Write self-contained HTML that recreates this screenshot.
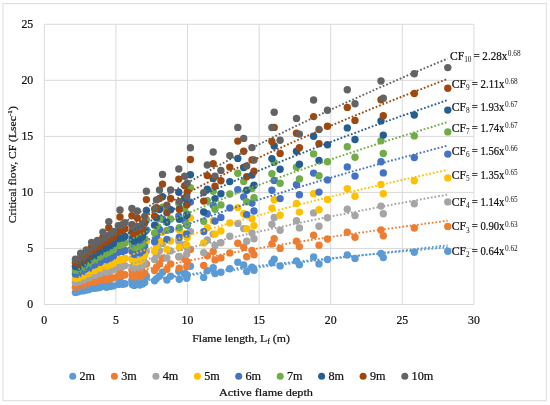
<!DOCTYPE html>
<html><head><meta charset="utf-8"><title>Critical flow chart</title>
<style>html,body{margin:0;padding:0;background:#fff;}svg{display:block;}text{font-family:'Liberation Serif', serif;fill:#111;stroke:#111;stroke-width:0.22px;}.sm{stroke-width:0;}</style></head><body>
<svg width="550" height="405" viewBox="0 0 550 405">
<rect x="0" y="0" width="550" height="405" fill="#fff"/>
<rect x="3.0" y="3.6" width="543.3" height="397.1" fill="none" stroke="#dedede" stroke-width="1.1"/>
<g stroke="#d9d9d9" stroke-width="1" fill="none"><line x1="44.30" y1="24.30" x2="44.30" y2="304.50"/><line x1="115.90" y1="24.30" x2="115.90" y2="304.50"/><line x1="187.50" y1="24.30" x2="187.50" y2="304.50"/><line x1="259.10" y1="24.30" x2="259.10" y2="304.50"/><line x1="330.70" y1="24.30" x2="330.70" y2="304.50"/><line x1="402.30" y1="24.30" x2="402.30" y2="304.50"/><line x1="473.90" y1="24.30" x2="473.90" y2="304.50"/><line x1="44.30" y1="304.50" x2="473.90" y2="304.50"/><line x1="44.30" y1="248.46" x2="473.90" y2="248.46"/><line x1="44.30" y1="192.42" x2="473.90" y2="192.42"/><line x1="44.30" y1="136.38" x2="473.90" y2="136.38"/><line x1="44.30" y1="80.34" x2="473.90" y2="80.34"/><line x1="44.30" y1="24.30" x2="473.90" y2="24.30"/></g>
<g fill="#5B9BD5"><circle cx="447.8" cy="251.3" r="3.70"/><circle cx="414.3" cy="252.3" r="3.70"/><circle cx="381.0" cy="253.5" r="3.70"/><circle cx="383.3" cy="257.5" r="3.70"/><circle cx="347.3" cy="255.0" r="3.70"/><circle cx="355.0" cy="258.4" r="3.70"/><circle cx="313.6" cy="256.9" r="3.70"/><circle cx="327.5" cy="259.5" r="3.70"/><circle cx="319.0" cy="263.9" r="3.70"/><circle cx="296.5" cy="261.0" r="3.70"/><circle cx="299.4" cy="264.7" r="3.70"/><circle cx="274.2" cy="259.2" r="3.70"/><circle cx="271.9" cy="262.8" r="3.70"/><circle cx="280.1" cy="265.9" r="3.70"/><circle cx="237.8" cy="262.2" r="3.70"/><circle cx="243.7" cy="264.9" r="3.70"/><circle cx="252.0" cy="267.2" r="3.70"/><circle cx="254.0" cy="270.2" r="3.70"/><circle cx="246.7" cy="271.5" r="3.70"/><circle cx="229.8" cy="268.8" r="3.70"/><circle cx="220.9" cy="272.3" r="3.70"/><circle cx="215.0" cy="273.6" r="3.70"/><circle cx="213.2" cy="267.7" r="3.70"/><circle cx="207.3" cy="270.8" r="3.70"/><circle cx="203.7" cy="277.4" r="3.70"/><circle cx="190.4" cy="266.3" r="3.70"/><circle cx="187.2" cy="274.9" r="3.70"/><circle cx="186.7" cy="278.2" r="3.70"/><circle cx="184.7" cy="273.1" r="3.70"/><circle cx="178.8" cy="271.3" r="3.70"/><circle cx="179.3" cy="279.3" r="3.70"/><circle cx="170.6" cy="276.3" r="3.70"/><circle cx="166.9" cy="280.0" r="3.70"/><circle cx="162.5" cy="272.3" r="3.70"/><circle cx="159.5" cy="276.1" r="3.70"/><circle cx="156.5" cy="278.6" r="3.70"/><circle cx="154.6" cy="280.8" r="3.70"/><circle cx="146.4" cy="276.2" r="3.70"/><circle cx="144.7" cy="282.5" r="3.70"/><circle cx="137.3" cy="281.0" r="3.70"/><circle cx="131.9" cy="280.3" r="3.70"/><circle cx="132.3" cy="284.5" r="3.70"/><circle cx="125.0" cy="283.8" r="3.70"/><circle cx="120.0" cy="280.5" r="3.70"/><circle cx="118.3" cy="284.4" r="3.70"/><circle cx="113.4" cy="285.9" r="3.70"/><circle cx="108.8" cy="283.2" r="3.70"/><circle cx="102.9" cy="285.8" r="3.70"/><circle cx="97.5" cy="287.9" r="3.70"/><circle cx="91.6" cy="288.3" r="3.70"/><circle cx="86.3" cy="290.1" r="3.70"/><circle cx="80.7" cy="290.9" r="3.70"/><circle cx="75.4" cy="292.4" r="3.70"/><circle cx="106.5" cy="287.2" r="3.70"/><circle cx="110.2" cy="286.5" r="3.70"/><circle cx="122.5" cy="284.2" r="3.70"/><circle cx="134.2" cy="285.4" r="3.70"/><circle cx="139.8" cy="285.0" r="3.70"/><circle cx="142.5" cy="284.1" r="3.70"/><circle cx="78.2" cy="291.8" r="3.70"/><circle cx="83.6" cy="290.7" r="3.70"/><circle cx="89.0" cy="289.6" r="3.70"/><circle cx="94.6" cy="288.3" r="3.70"/><circle cx="100.2" cy="287.2" r="3.70"/><circle cx="105.8" cy="286.1" r="3.70"/></g>
<g fill="#ED7D31"><circle cx="447.8" cy="226.4" r="3.70"/><circle cx="414.3" cy="228.0" r="3.70"/><circle cx="381.0" cy="229.9" r="3.70"/><circle cx="383.3" cy="235.7" r="3.70"/><circle cx="347.3" cy="232.3" r="3.70"/><circle cx="355.0" cy="237.2" r="3.70"/><circle cx="313.6" cy="235.3" r="3.70"/><circle cx="327.5" cy="239.0" r="3.70"/><circle cx="319.0" cy="245.3" r="3.70"/><circle cx="296.5" cy="241.2" r="3.70"/><circle cx="299.4" cy="246.6" r="3.70"/><circle cx="274.2" cy="238.7" r="3.70"/><circle cx="271.9" cy="243.9" r="3.70"/><circle cx="280.1" cy="248.4" r="3.70"/><circle cx="237.8" cy="243.3" r="3.70"/><circle cx="243.7" cy="247.2" r="3.70"/><circle cx="252.0" cy="250.5" r="3.70"/><circle cx="254.0" cy="254.8" r="3.70"/><circle cx="246.7" cy="256.7" r="3.70"/><circle cx="229.8" cy="252.9" r="3.70"/><circle cx="220.9" cy="257.9" r="3.70"/><circle cx="215.0" cy="259.9" r="3.70"/><circle cx="213.2" cy="251.4" r="3.70"/><circle cx="207.3" cy="255.8" r="3.70"/><circle cx="203.7" cy="265.4" r="3.70"/><circle cx="190.4" cy="249.4" r="3.70"/><circle cx="187.2" cy="261.8" r="3.70"/><circle cx="186.7" cy="266.6" r="3.70"/><circle cx="184.7" cy="259.3" r="3.70"/><circle cx="178.8" cy="256.7" r="3.70"/><circle cx="179.3" cy="268.2" r="3.70"/><circle cx="170.6" cy="264.0" r="3.70"/><circle cx="166.9" cy="269.3" r="3.70"/><circle cx="162.5" cy="258.3" r="3.70"/><circle cx="159.5" cy="263.8" r="3.70"/><circle cx="156.5" cy="267.2" r="3.70"/><circle cx="154.6" cy="270.5" r="3.70"/><circle cx="146.4" cy="264.0" r="3.70"/><circle cx="144.7" cy="273.0" r="3.70"/><circle cx="137.3" cy="270.9" r="3.70"/><circle cx="131.9" cy="269.9" r="3.70"/><circle cx="132.3" cy="275.8" r="3.70"/><circle cx="125.0" cy="274.8" r="3.70"/><circle cx="120.0" cy="270.2" r="3.70"/><circle cx="118.3" cy="275.8" r="3.70"/><circle cx="113.4" cy="277.9" r="3.70"/><circle cx="108.8" cy="274.1" r="3.70"/><circle cx="102.9" cy="277.9" r="3.70"/><circle cx="97.5" cy="280.8" r="3.70"/><circle cx="91.6" cy="281.4" r="3.70"/><circle cx="86.3" cy="284.1" r="3.70"/><circle cx="80.7" cy="285.2" r="3.70"/><circle cx="75.4" cy="287.3" r="3.70"/><circle cx="106.5" cy="279.7" r="3.70"/><circle cx="110.2" cy="278.9" r="3.70"/><circle cx="122.5" cy="275.5" r="3.70"/><circle cx="134.2" cy="277.1" r="3.70"/><circle cx="139.8" cy="276.5" r="3.70"/><circle cx="142.5" cy="275.3" r="3.70"/><circle cx="78.2" cy="286.9" r="3.70"/><circle cx="83.6" cy="285.3" r="3.70"/><circle cx="89.0" cy="283.7" r="3.70"/><circle cx="94.6" cy="281.9" r="3.70"/><circle cx="100.2" cy="280.3" r="3.70"/><circle cx="105.8" cy="278.7" r="3.70"/></g>
<g fill="#A5A5A5"><circle cx="447.8" cy="201.9" r="3.70"/><circle cx="414.3" cy="203.8" r="3.70"/><circle cx="381.0" cy="206.1" r="3.70"/><circle cx="383.3" cy="213.8" r="3.70"/><circle cx="347.3" cy="209.2" r="3.70"/><circle cx="355.0" cy="215.6" r="3.70"/><circle cx="313.6" cy="212.9" r="3.70"/><circle cx="327.5" cy="217.8" r="3.70"/><circle cx="319.0" cy="226.2" r="3.70"/><circle cx="296.5" cy="220.8" r="3.70"/><circle cx="299.4" cy="227.9" r="3.70"/><circle cx="274.2" cy="217.4" r="3.70"/><circle cx="271.9" cy="224.3" r="3.70"/><circle cx="280.1" cy="230.3" r="3.70"/><circle cx="237.8" cy="223.4" r="3.70"/><circle cx="243.7" cy="228.6" r="3.70"/><circle cx="252.0" cy="233.0" r="3.70"/><circle cx="254.0" cy="238.7" r="3.70"/><circle cx="246.7" cy="241.2" r="3.70"/><circle cx="229.8" cy="236.2" r="3.70"/><circle cx="220.9" cy="242.8" r="3.70"/><circle cx="215.0" cy="245.4" r="3.70"/><circle cx="213.2" cy="234.1" r="3.70"/><circle cx="207.3" cy="240.0" r="3.70"/><circle cx="203.7" cy="252.7" r="3.70"/><circle cx="190.4" cy="231.6" r="3.70"/><circle cx="187.2" cy="248.0" r="3.70"/><circle cx="186.7" cy="254.3" r="3.70"/><circle cx="184.7" cy="244.7" r="3.70"/><circle cx="178.8" cy="241.2" r="3.70"/><circle cx="179.3" cy="256.4" r="3.70"/><circle cx="170.6" cy="250.9" r="3.70"/><circle cx="166.9" cy="258.0" r="3.70"/><circle cx="162.5" cy="243.4" r="3.70"/><circle cx="159.5" cy="250.7" r="3.70"/><circle cx="156.5" cy="255.3" r="3.70"/><circle cx="154.6" cy="259.6" r="3.70"/><circle cx="146.4" cy="251.1" r="3.70"/><circle cx="144.7" cy="262.9" r="3.70"/><circle cx="137.3" cy="260.3" r="3.70"/><circle cx="131.9" cy="259.0" r="3.70"/><circle cx="132.3" cy="266.9" r="3.70"/><circle cx="125.0" cy="265.6" r="3.70"/><circle cx="120.0" cy="259.6" r="3.70"/><circle cx="118.3" cy="266.9" r="3.70"/><circle cx="113.4" cy="269.7" r="3.70"/><circle cx="108.8" cy="264.9" r="3.70"/><circle cx="102.9" cy="269.8" r="3.70"/><circle cx="97.5" cy="273.7" r="3.70"/><circle cx="91.6" cy="274.5" r="3.70"/><circle cx="86.3" cy="278.1" r="3.70"/><circle cx="80.7" cy="279.6" r="3.70"/><circle cx="75.4" cy="282.4" r="3.70"/><circle cx="106.5" cy="272.2" r="3.70"/><circle cx="110.2" cy="271.0" r="3.70"/><circle cx="122.5" cy="266.5" r="3.70"/><circle cx="134.2" cy="268.5" r="3.70"/><circle cx="139.8" cy="267.7" r="3.70"/><circle cx="142.5" cy="266.0" r="3.70"/><circle cx="78.2" cy="282.1" r="3.70"/><circle cx="83.6" cy="280.1" r="3.70"/><circle cx="89.0" cy="277.9" r="3.70"/><circle cx="94.6" cy="275.6" r="3.70"/><circle cx="100.2" cy="273.5" r="3.70"/><circle cx="105.8" cy="271.3" r="3.70"/></g>
<g fill="#FFC000"><circle cx="447.8" cy="177.9" r="3.70"/><circle cx="414.3" cy="180.8" r="3.70"/><circle cx="381.0" cy="184.4" r="3.70"/><circle cx="383.3" cy="193.7" r="3.70"/><circle cx="347.3" cy="188.6" r="3.70"/><circle cx="355.0" cy="196.3" r="3.70"/><circle cx="313.6" cy="193.8" r="3.70"/><circle cx="327.5" cy="199.5" r="3.70"/><circle cx="319.0" cy="209.8" r="3.70"/><circle cx="296.5" cy="203.5" r="3.70"/><circle cx="299.4" cy="212.1" r="3.70"/><circle cx="274.2" cy="199.8" r="3.70"/><circle cx="271.9" cy="208.1" r="3.70"/><circle cx="280.1" cy="215.2" r="3.70"/><circle cx="237.8" cy="207.6" r="3.70"/><circle cx="243.7" cy="213.7" r="3.70"/><circle cx="252.0" cy="218.8" r="3.70"/><circle cx="254.0" cy="225.6" r="3.70"/><circle cx="246.7" cy="228.8" r="3.70"/><circle cx="229.8" cy="222.9" r="3.70"/><circle cx="220.9" cy="230.9" r="3.70"/><circle cx="215.0" cy="234.1" r="3.70"/><circle cx="213.2" cy="220.7" r="3.70"/><circle cx="207.3" cy="227.7" r="3.70"/><circle cx="203.7" cy="242.9" r="3.70"/><circle cx="190.4" cy="217.9" r="3.70"/><circle cx="187.2" cy="237.4" r="3.70"/><circle cx="186.7" cy="244.9" r="3.70"/><circle cx="184.7" cy="233.6" r="3.70"/><circle cx="178.8" cy="229.5" r="3.70"/><circle cx="179.3" cy="247.5" r="3.70"/><circle cx="170.6" cy="241.0" r="3.70"/><circle cx="166.9" cy="249.4" r="3.70"/><circle cx="162.5" cy="232.2" r="3.70"/><circle cx="159.5" cy="240.8" r="3.70"/><circle cx="156.5" cy="246.3" r="3.70"/><circle cx="154.6" cy="251.3" r="3.70"/><circle cx="146.4" cy="241.3" r="3.70"/><circle cx="144.7" cy="255.3" r="3.70"/><circle cx="137.3" cy="252.2" r="3.70"/><circle cx="131.9" cy="250.7" r="3.70"/><circle cx="132.3" cy="259.9" r="3.70"/><circle cx="125.0" cy="258.5" r="3.70"/><circle cx="120.0" cy="251.3" r="3.70"/><circle cx="118.3" cy="260.0" r="3.70"/><circle cx="113.4" cy="263.3" r="3.70"/><circle cx="108.8" cy="257.6" r="3.70"/><circle cx="102.9" cy="263.4" r="3.70"/><circle cx="97.5" cy="268.0" r="3.70"/><circle cx="91.6" cy="269.0" r="3.70"/><circle cx="86.3" cy="273.2" r="3.70"/><circle cx="80.7" cy="275.0" r="3.70"/><circle cx="75.4" cy="278.3" r="3.70"/><circle cx="106.5" cy="266.3" r="3.70"/><circle cx="110.2" cy="264.9" r="3.70"/><circle cx="122.5" cy="259.5" r="3.70"/><circle cx="134.2" cy="261.9" r="3.70"/><circle cx="139.8" cy="260.9" r="3.70"/><circle cx="142.5" cy="259.0" r="3.70"/><circle cx="78.2" cy="278.3" r="3.70"/><circle cx="83.6" cy="275.9" r="3.70"/><circle cx="89.0" cy="273.3" r="3.70"/><circle cx="94.6" cy="270.6" r="3.70"/><circle cx="100.2" cy="268.1" r="3.70"/><circle cx="105.8" cy="265.7" r="3.70"/></g>
<g fill="#4472C4"><circle cx="447.8" cy="154.1" r="3.70"/><circle cx="414.3" cy="157.6" r="3.70"/><circle cx="381.0" cy="161.8" r="3.70"/><circle cx="383.3" cy="172.9" r="3.70"/><circle cx="347.3" cy="166.9" r="3.70"/><circle cx="355.0" cy="176.1" r="3.70"/><circle cx="313.6" cy="173.1" r="3.70"/><circle cx="327.5" cy="179.9" r="3.70"/><circle cx="319.0" cy="192.1" r="3.70"/><circle cx="296.5" cy="184.7" r="3.70"/><circle cx="299.4" cy="194.8" r="3.70"/><circle cx="274.2" cy="180.4" r="3.70"/><circle cx="271.9" cy="190.2" r="3.70"/><circle cx="280.1" cy="198.6" r="3.70"/><circle cx="237.8" cy="189.7" r="3.70"/><circle cx="243.7" cy="196.9" r="3.70"/><circle cx="252.0" cy="203.0" r="3.70"/><circle cx="254.0" cy="211.0" r="3.70"/><circle cx="246.7" cy="214.8" r="3.70"/><circle cx="229.8" cy="207.9" r="3.70"/><circle cx="220.9" cy="217.4" r="3.70"/><circle cx="215.0" cy="221.1" r="3.70"/><circle cx="213.2" cy="205.3" r="3.70"/><circle cx="207.3" cy="213.7" r="3.70"/><circle cx="203.7" cy="231.6" r="3.70"/><circle cx="190.4" cy="202.1" r="3.70"/><circle cx="187.2" cy="225.2" r="3.70"/><circle cx="186.7" cy="234.1" r="3.70"/><circle cx="184.7" cy="220.7" r="3.70"/><circle cx="178.8" cy="215.9" r="3.70"/><circle cx="179.3" cy="237.2" r="3.70"/><circle cx="170.6" cy="229.5" r="3.70"/><circle cx="166.9" cy="239.5" r="3.70"/><circle cx="162.5" cy="219.2" r="3.70"/><circle cx="159.5" cy="229.4" r="3.70"/><circle cx="156.5" cy="235.8" r="3.70"/><circle cx="154.6" cy="241.8" r="3.70"/><circle cx="146.4" cy="230.0" r="3.70"/><circle cx="144.7" cy="246.5" r="3.70"/><circle cx="137.3" cy="242.9" r="3.70"/><circle cx="131.9" cy="241.2" r="3.70"/><circle cx="132.3" cy="252.0" r="3.70"/><circle cx="125.0" cy="250.4" r="3.70"/><circle cx="120.0" cy="242.0" r="3.70"/><circle cx="118.3" cy="252.3" r="3.70"/><circle cx="113.4" cy="256.1" r="3.70"/><circle cx="108.8" cy="249.5" r="3.70"/><circle cx="102.9" cy="256.3" r="3.70"/><circle cx="97.5" cy="261.8" r="3.70"/><circle cx="91.6" cy="263.0" r="3.70"/><circle cx="86.3" cy="267.9" r="3.70"/><circle cx="80.7" cy="270.0" r="3.70"/><circle cx="75.4" cy="274.0" r="3.70"/><circle cx="106.5" cy="259.7" r="3.70"/><circle cx="110.2" cy="258.0" r="3.70"/><circle cx="122.5" cy="251.6" r="3.70"/><circle cx="134.2" cy="254.3" r="3.70"/><circle cx="139.8" cy="253.1" r="3.70"/><circle cx="142.5" cy="250.8" r="3.70"/><circle cx="78.2" cy="274.2" r="3.70"/><circle cx="83.6" cy="271.4" r="3.70"/><circle cx="89.0" cy="268.4" r="3.70"/><circle cx="94.6" cy="265.2" r="3.70"/><circle cx="100.2" cy="262.3" r="3.70"/><circle cx="105.8" cy="259.4" r="3.70"/></g>
<g fill="#70AD47"><circle cx="447.8" cy="131.9" r="3.70"/><circle cx="414.3" cy="135.9" r="3.70"/><circle cx="381.0" cy="140.8" r="3.70"/><circle cx="383.3" cy="153.5" r="3.70"/><circle cx="347.3" cy="146.8" r="3.70"/><circle cx="355.0" cy="157.2" r="3.70"/><circle cx="313.6" cy="153.9" r="3.70"/><circle cx="327.5" cy="161.7" r="3.70"/><circle cx="319.0" cy="175.7" r="3.70"/><circle cx="296.5" cy="167.3" r="3.70"/><circle cx="299.4" cy="178.9" r="3.70"/><circle cx="274.2" cy="162.4" r="3.70"/><circle cx="271.9" cy="173.7" r="3.70"/><circle cx="280.1" cy="183.3" r="3.70"/><circle cx="237.8" cy="173.2" r="3.70"/><circle cx="243.7" cy="181.4" r="3.70"/><circle cx="252.0" cy="188.4" r="3.70"/><circle cx="254.0" cy="197.6" r="3.70"/><circle cx="246.7" cy="201.8" r="3.70"/><circle cx="229.8" cy="194.0" r="3.70"/><circle cx="220.9" cy="204.9" r="3.70"/><circle cx="215.0" cy="209.2" r="3.70"/><circle cx="213.2" cy="191.2" r="3.70"/><circle cx="207.3" cy="200.8" r="3.70"/><circle cx="203.7" cy="221.3" r="3.70"/><circle cx="190.4" cy="187.7" r="3.70"/><circle cx="187.2" cy="214.0" r="3.70"/><circle cx="186.7" cy="224.2" r="3.70"/><circle cx="184.7" cy="208.8" r="3.70"/><circle cx="178.8" cy="203.4" r="3.70"/><circle cx="179.3" cy="227.7" r="3.70"/><circle cx="170.6" cy="219.0" r="3.70"/><circle cx="166.9" cy="230.4" r="3.70"/><circle cx="162.5" cy="207.3" r="3.70"/><circle cx="159.5" cy="218.9" r="3.70"/><circle cx="156.5" cy="226.3" r="3.70"/><circle cx="154.6" cy="233.1" r="3.70"/><circle cx="146.4" cy="219.7" r="3.70"/><circle cx="144.7" cy="238.6" r="3.70"/><circle cx="137.3" cy="234.5" r="3.70"/><circle cx="131.9" cy="232.6" r="3.70"/><circle cx="132.3" cy="244.9" r="3.70"/><circle cx="125.0" cy="243.1" r="3.70"/><circle cx="120.0" cy="233.6" r="3.70"/><circle cx="118.3" cy="245.3" r="3.70"/><circle cx="113.4" cy="249.7" r="3.70"/><circle cx="108.8" cy="242.2" r="3.70"/><circle cx="102.9" cy="250.0" r="3.70"/><circle cx="97.5" cy="256.2" r="3.70"/><circle cx="91.6" cy="257.7" r="3.70"/><circle cx="86.3" cy="263.3" r="3.70"/><circle cx="80.7" cy="265.7" r="3.70"/><circle cx="75.4" cy="270.2" r="3.70"/><circle cx="106.5" cy="253.7" r="3.70"/><circle cx="110.2" cy="251.8" r="3.70"/><circle cx="122.5" cy="244.5" r="3.70"/><circle cx="134.2" cy="247.5" r="3.70"/><circle cx="139.8" cy="246.1" r="3.70"/><circle cx="142.5" cy="243.5" r="3.70"/><circle cx="78.2" cy="270.6" r="3.70"/><circle cx="83.6" cy="267.5" r="3.70"/><circle cx="89.0" cy="264.1" r="3.70"/><circle cx="94.6" cy="260.4" r="3.70"/><circle cx="100.2" cy="257.1" r="3.70"/><circle cx="105.8" cy="253.8" r="3.70"/></g>
<g fill="#255E91"><circle cx="447.8" cy="110.1" r="3.70"/><circle cx="414.3" cy="115.0" r="3.70"/><circle cx="381.0" cy="120.9" r="3.70"/><circle cx="383.3" cy="135.1" r="3.70"/><circle cx="347.3" cy="127.9" r="3.70"/><circle cx="355.0" cy="139.5" r="3.70"/><circle cx="313.6" cy="136.2" r="3.70"/><circle cx="327.5" cy="144.7" r="3.70"/><circle cx="319.0" cy="160.5" r="3.70"/><circle cx="296.5" cy="151.3" r="3.70"/><circle cx="299.4" cy="164.2" r="3.70"/><circle cx="274.2" cy="146.0" r="3.70"/><circle cx="271.9" cy="158.6" r="3.70"/><circle cx="280.1" cy="169.2" r="3.70"/><circle cx="237.8" cy="158.4" r="3.70"/><circle cx="243.7" cy="167.5" r="3.70"/><circle cx="252.0" cy="175.1" r="3.70"/><circle cx="254.0" cy="185.3" r="3.70"/><circle cx="246.7" cy="190.2" r="3.70"/><circle cx="229.8" cy="181.6" r="3.70"/><circle cx="220.9" cy="193.8" r="3.70"/><circle cx="215.0" cy="198.6" r="3.70"/><circle cx="213.2" cy="178.5" r="3.70"/><circle cx="207.3" cy="189.2" r="3.70"/><circle cx="203.7" cy="212.0" r="3.70"/><circle cx="190.4" cy="174.8" r="3.70"/><circle cx="187.2" cy="204.1" r="3.70"/><circle cx="186.7" cy="215.3" r="3.70"/><circle cx="184.7" cy="198.3" r="3.70"/><circle cx="178.8" cy="192.3" r="3.70"/><circle cx="179.3" cy="219.3" r="3.70"/><circle cx="170.6" cy="209.7" r="3.70"/><circle cx="166.9" cy="222.3" r="3.70"/><circle cx="162.5" cy="196.7" r="3.70"/><circle cx="159.5" cy="209.6" r="3.70"/><circle cx="156.5" cy="217.8" r="3.70"/><circle cx="154.6" cy="225.3" r="3.70"/><circle cx="146.4" cy="210.5" r="3.70"/><circle cx="144.7" cy="231.4" r="3.70"/><circle cx="137.3" cy="226.8" r="3.70"/><circle cx="131.9" cy="224.7" r="3.70"/><circle cx="132.3" cy="238.4" r="3.70"/><circle cx="125.0" cy="236.4" r="3.70"/><circle cx="120.0" cy="225.8" r="3.70"/><circle cx="118.3" cy="238.8" r="3.70"/><circle cx="113.4" cy="243.7" r="3.70"/><circle cx="108.8" cy="235.4" r="3.70"/><circle cx="102.9" cy="244.1" r="3.70"/><circle cx="97.5" cy="250.9" r="3.70"/><circle cx="91.6" cy="252.6" r="3.70"/><circle cx="86.3" cy="258.8" r="3.70"/><circle cx="80.7" cy="261.5" r="3.70"/><circle cx="75.4" cy="266.5" r="3.70"/><circle cx="106.5" cy="248.2" r="3.70"/><circle cx="110.2" cy="246.1" r="3.70"/><circle cx="122.5" cy="237.9" r="3.70"/><circle cx="134.2" cy="241.3" r="3.70"/><circle cx="139.8" cy="239.7" r="3.70"/><circle cx="142.5" cy="236.8" r="3.70"/><circle cx="78.2" cy="267.2" r="3.70"/><circle cx="83.6" cy="263.7" r="3.70"/><circle cx="89.0" cy="259.9" r="3.70"/><circle cx="94.6" cy="255.9" r="3.70"/><circle cx="100.2" cy="252.3" r="3.70"/><circle cx="105.8" cy="248.6" r="3.70"/></g>
<g fill="#9E480E"><circle cx="447.8" cy="88.3" r="3.70"/><circle cx="414.3" cy="93.5" r="3.70"/><circle cx="381.0" cy="99.8" r="3.70"/><circle cx="383.3" cy="115.7" r="3.70"/><circle cx="347.3" cy="107.4" r="3.70"/><circle cx="355.0" cy="120.4" r="3.70"/><circle cx="313.6" cy="116.6" r="3.70"/><circle cx="327.5" cy="126.2" r="3.70"/><circle cx="319.0" cy="143.7" r="3.70"/><circle cx="296.5" cy="133.3" r="3.70"/><circle cx="299.4" cy="147.8" r="3.70"/><circle cx="274.2" cy="127.4" r="3.70"/><circle cx="271.9" cy="141.5" r="3.70"/><circle cx="280.1" cy="153.4" r="3.70"/><circle cx="237.8" cy="141.1" r="3.70"/><circle cx="243.7" cy="151.3" r="3.70"/><circle cx="252.0" cy="159.9" r="3.70"/><circle cx="254.0" cy="171.3" r="3.70"/><circle cx="246.7" cy="176.7" r="3.70"/><circle cx="229.8" cy="167.1" r="3.70"/><circle cx="220.9" cy="180.7" r="3.70"/><circle cx="215.0" cy="186.1" r="3.70"/><circle cx="213.2" cy="163.7" r="3.70"/><circle cx="207.3" cy="175.6" r="3.70"/><circle cx="203.7" cy="201.1" r="3.70"/><circle cx="190.4" cy="159.5" r="3.70"/><circle cx="187.2" cy="192.2" r="3.70"/><circle cx="186.7" cy="204.8" r="3.70"/><circle cx="184.7" cy="185.8" r="3.70"/><circle cx="178.8" cy="179.1" r="3.70"/><circle cx="179.3" cy="209.3" r="3.70"/><circle cx="170.6" cy="198.5" r="3.70"/><circle cx="166.9" cy="212.7" r="3.70"/><circle cx="162.5" cy="184.1" r="3.70"/><circle cx="159.5" cy="198.5" r="3.70"/><circle cx="156.5" cy="207.7" r="3.70"/><circle cx="154.6" cy="216.1" r="3.70"/><circle cx="146.4" cy="199.6" r="3.70"/><circle cx="144.7" cy="223.0" r="3.70"/><circle cx="137.3" cy="218.0" r="3.70"/><circle cx="131.9" cy="215.7" r="3.70"/><circle cx="132.3" cy="230.9" r="3.70"/><circle cx="125.0" cy="228.7" r="3.70"/><circle cx="120.0" cy="217.0" r="3.70"/><circle cx="118.3" cy="231.5" r="3.70"/><circle cx="113.4" cy="236.9" r="3.70"/><circle cx="108.8" cy="227.8" r="3.70"/><circle cx="102.9" cy="237.5" r="3.70"/><circle cx="97.5" cy="245.2" r="3.70"/><circle cx="91.6" cy="247.0" r="3.70"/><circle cx="86.3" cy="254.0" r="3.70"/><circle cx="80.7" cy="257.0" r="3.70"/><circle cx="75.4" cy="262.6" r="3.70"/><circle cx="106.5" cy="242.0" r="3.70"/><circle cx="110.2" cy="239.6" r="3.70"/><circle cx="122.5" cy="230.5" r="3.70"/><circle cx="134.2" cy="234.1" r="3.70"/><circle cx="139.8" cy="232.3" r="3.70"/><circle cx="142.5" cy="229.1" r="3.70"/><circle cx="78.2" cy="263.6" r="3.70"/><circle cx="83.6" cy="259.7" r="3.70"/><circle cx="89.0" cy="255.5" r="3.70"/><circle cx="94.6" cy="251.0" r="3.70"/><circle cx="100.2" cy="246.9" r="3.70"/><circle cx="105.8" cy="242.8" r="3.70"/></g>
<g fill="#636363"><circle cx="447.8" cy="67.6" r="3.70"/><circle cx="414.3" cy="73.7" r="3.70"/><circle cx="381.0" cy="81.0" r="3.70"/><circle cx="383.3" cy="98.3" r="3.70"/><circle cx="347.3" cy="89.7" r="3.70"/><circle cx="355.0" cy="103.8" r="3.70"/><circle cx="313.6" cy="100.0" r="3.70"/><circle cx="327.5" cy="110.3" r="3.70"/><circle cx="319.0" cy="129.5" r="3.70"/><circle cx="296.5" cy="118.4" r="3.70"/><circle cx="299.4" cy="134.1" r="3.70"/><circle cx="274.2" cy="112.2" r="3.70"/><circle cx="271.9" cy="127.5" r="3.70"/><circle cx="280.1" cy="140.3" r="3.70"/><circle cx="237.8" cy="127.4" r="3.70"/><circle cx="243.7" cy="138.4" r="3.70"/><circle cx="252.0" cy="147.6" r="3.70"/><circle cx="254.0" cy="160.0" r="3.70"/><circle cx="246.7" cy="165.9" r="3.70"/><circle cx="229.8" cy="155.6" r="3.70"/><circle cx="220.9" cy="170.4" r="3.70"/><circle cx="215.0" cy="176.3" r="3.70"/><circle cx="213.2" cy="152.0" r="3.70"/><circle cx="207.3" cy="165.0" r="3.70"/><circle cx="203.7" cy="192.6" r="3.70"/><circle cx="190.4" cy="147.7" r="3.70"/><circle cx="187.2" cy="183.1" r="3.70"/><circle cx="186.7" cy="196.7" r="3.70"/><circle cx="184.7" cy="176.2" r="3.70"/><circle cx="178.8" cy="169.0" r="3.70"/><circle cx="179.3" cy="201.6" r="3.70"/><circle cx="170.6" cy="190.0" r="3.70"/><circle cx="166.9" cy="205.3" r="3.70"/><circle cx="162.5" cy="174.4" r="3.70"/><circle cx="159.5" cy="190.0" r="3.70"/><circle cx="156.5" cy="199.9" r="3.70"/><circle cx="154.6" cy="209.0" r="3.70"/><circle cx="146.4" cy="191.2" r="3.70"/><circle cx="144.7" cy="216.4" r="3.70"/><circle cx="137.3" cy="211.0" r="3.70"/><circle cx="131.9" cy="208.5" r="3.70"/><circle cx="132.3" cy="225.0" r="3.70"/><circle cx="125.0" cy="222.6" r="3.70"/><circle cx="120.0" cy="210.0" r="3.70"/><circle cx="118.3" cy="225.6" r="3.70"/><circle cx="113.4" cy="231.5" r="3.70"/><circle cx="108.8" cy="221.6" r="3.70"/><circle cx="102.9" cy="232.1" r="3.70"/><circle cx="97.5" cy="240.4" r="3.70"/><circle cx="91.6" cy="242.4" r="3.70"/><circle cx="86.3" cy="249.9" r="3.70"/><circle cx="80.7" cy="253.2" r="3.70"/><circle cx="75.4" cy="259.2" r="3.70"/><circle cx="106.5" cy="237.0" r="3.70"/><circle cx="110.2" cy="234.4" r="3.70"/><circle cx="122.5" cy="224.5" r="3.70"/><circle cx="134.2" cy="228.4" r="3.70"/><circle cx="139.8" cy="226.5" r="3.70"/><circle cx="142.5" cy="223.0" r="3.70"/><circle cx="78.2" cy="260.5" r="3.70"/><circle cx="83.6" cy="256.3" r="3.70"/><circle cx="89.0" cy="251.8" r="3.70"/><circle cx="94.6" cy="247.0" r="3.70"/><circle cx="100.2" cy="242.6" r="3.70"/><circle cx="105.8" cy="238.2" r="3.70"/></g>
<polyline points="75.4,292.8 80.0,291.8 84.7,290.8 89.3,289.8 94.0,288.9 98.6,288.0 103.3,287.1 107.9,286.3 112.6,285.5 117.2,284.7 121.9,283.9 126.5,283.2 131.2,282.4 135.9,281.7 140.5,281.0 145.2,280.3 149.8,279.6 154.5,278.9 159.1,278.3 163.8,277.6 168.4,277.0 173.1,276.3 177.7,275.7 182.4,275.1 187.0,274.5 191.7,273.9 196.3,273.3 201.0,272.7 205.6,272.1 210.3,271.5 214.9,271.0 219.6,270.4 224.2,269.8 228.9,269.3 233.5,268.7 238.2,268.2 242.9,267.7 247.5,267.1 252.2,266.6 256.8,266.1 261.5,265.5 266.1,265.0 270.8,264.5 275.4,264.0 280.1,263.5 284.7,263.0 289.4,262.5 294.0,262.0 298.7,261.5 303.3,261.0 308.0,260.6 312.6,260.1 317.3,259.6 321.9,259.1 326.6,258.7 331.2,258.2 335.9,257.7 340.6,257.3 345.2,256.8 349.9,256.4 354.5,255.9 359.2,255.5 363.8,255.0 368.5,254.6 373.1,254.1 377.8,253.7 382.4,253.2 387.1,252.8 391.7,252.4 396.4,251.9 401.0,251.5 405.7,251.1 410.3,250.7 415.0,250.2 419.6,249.8 424.3,249.4 428.9,249.0 433.6,248.6 438.2,248.1 442.9,247.7 447.6,247.3" fill="none" stroke="#5B9BD5" stroke-width="1.9" stroke-dasharray="1.75 1.95"/>
<line x1="75.4" y1="288.4" x2="447.6" y2="245.3" stroke="#5B9BD5" stroke-width="1.9" stroke-dasharray="1.75 1.95"/>
<polyline points="75.4,287.8 80.0,286.3 84.7,284.9 89.3,283.5 94.0,282.1 98.6,280.8 103.3,279.6 107.9,278.3 112.6,277.1 117.2,276.0 121.9,274.8 126.5,273.7 131.2,272.7 135.9,271.6 140.5,270.5 145.2,269.5 149.8,268.5 154.5,267.5 159.1,266.5 163.8,265.6 168.4,264.6 173.1,263.7 177.7,262.8 182.4,261.9 187.0,261.0 191.7,260.1 196.3,259.2 201.0,258.3 205.6,257.5 210.3,256.6 214.9,255.8 219.6,255.0 224.2,254.1 228.9,253.3 233.5,252.5 238.2,251.7 242.9,250.9 247.5,250.1 252.2,249.3 256.8,248.6 261.5,247.8 266.1,247.0 270.8,246.3 275.4,245.5 280.1,244.8 284.7,244.0 289.4,243.3 294.0,242.6 298.7,241.9 303.3,241.1 308.0,240.4 312.6,239.7 317.3,239.0 321.9,238.3 326.6,237.6 331.2,236.9 335.9,236.2 340.6,235.5 345.2,234.9 349.9,234.2 354.5,233.5 359.2,232.8 363.8,232.2 368.5,231.5 373.1,230.9 377.8,230.2 382.4,229.6 387.1,228.9 391.7,228.3 396.4,227.6 401.0,227.0 405.7,226.3 410.3,225.7 415.0,225.1 419.6,224.5 424.3,223.8 428.9,223.2 433.6,222.6 438.2,222.0 442.9,221.4 447.6,220.8" fill="none" stroke="#ED7D31" stroke-width="1.9" stroke-dasharray="1.75 1.95"/>
<polyline points="75.4,283.7 80.0,281.8 84.7,279.9 89.3,278.1 94.0,276.3 98.6,274.6 103.3,273.0 107.9,271.4 112.6,269.9 117.2,268.3 121.9,266.9 126.5,265.4 131.2,264.0 135.9,262.6 140.5,261.2 145.2,259.9 149.8,258.5 154.5,257.2 159.1,255.9 163.8,254.7 168.4,253.4 173.1,252.2 177.7,251.0 182.4,249.8 187.0,248.6 191.7,247.4 196.3,246.2 201.0,245.1 205.6,243.9 210.3,242.8 214.9,241.7 219.6,240.6 224.2,239.5 228.9,238.4 233.5,237.3 238.2,236.2 242.9,235.2 247.5,234.1 252.2,233.1 256.8,232.1 261.5,231.0 266.1,230.0 270.8,229.0 275.4,228.0 280.1,227.0 284.7,226.0 289.4,225.0 294.0,224.0 298.7,223.1 303.3,222.1 308.0,221.1 312.6,220.2 317.3,219.2 321.9,218.3 326.6,217.4 331.2,216.4 335.9,215.5 340.6,214.6 345.2,213.7 349.9,212.8 354.5,211.9 359.2,211.0 363.8,210.1 368.5,209.2 373.1,208.3 377.8,207.4 382.4,206.5 387.1,205.6 391.7,204.8 396.4,203.9 401.0,203.1 405.7,202.2 410.3,201.3 415.0,200.5 419.6,199.6 424.3,198.8 428.9,198.0 433.6,197.1 438.2,196.3 442.9,195.5 447.6,194.6" fill="none" stroke="#A5A5A5" stroke-width="1.9" stroke-dasharray="1.75 1.95"/>
<polyline points="75.4,279.1 80.0,276.6 84.7,274.3 89.3,272.1 94.0,270.0 98.6,267.9 103.3,265.9 107.9,264.0 112.6,262.0 117.2,260.2 121.9,258.4 126.5,256.6 131.2,254.9 135.9,253.1 140.5,251.5 145.2,249.8 149.8,248.2 154.5,246.6 159.1,245.0 163.8,243.4 168.4,241.9 173.1,240.4 177.7,238.9 182.4,237.4 187.0,236.0 191.7,234.5 196.3,233.1 201.0,231.7 205.6,230.3 210.3,228.9 214.9,227.5 219.6,226.2 224.2,224.8 228.9,223.5 233.5,222.2 238.2,220.8 242.9,219.5 247.5,218.3 252.2,217.0 256.8,215.7 261.5,214.5 266.1,213.2 270.8,212.0 275.4,210.7 280.1,209.5 284.7,208.3 289.4,207.1 294.0,205.9 298.7,204.7 303.3,203.5 308.0,202.3 312.6,201.2 317.3,200.0 321.9,198.9 326.6,197.7 331.2,196.6 335.9,195.4 340.6,194.3 345.2,193.2 349.9,192.1 354.5,191.0 359.2,189.9 363.8,188.8 368.5,187.7 373.1,186.6 377.8,185.5 382.4,184.4 387.1,183.4 391.7,182.3 396.4,181.2 401.0,180.2 405.7,179.1 410.3,178.1 415.0,177.0 419.6,176.0 424.3,175.0 428.9,173.9 433.6,172.9 438.2,171.9 442.9,170.9 447.6,169.9" fill="none" stroke="#FFC000" stroke-width="1.9" stroke-dasharray="1.75 1.95"/>
<polyline points="75.4,275.2 80.0,272.4 84.7,269.7 89.3,267.1 94.0,264.6 98.6,262.2 103.3,259.8 107.9,257.5 112.6,255.3 117.2,253.1 121.9,251.0 126.5,248.9 131.2,246.8 135.9,244.8 140.5,242.8 145.2,240.9 149.8,238.9 154.5,237.0 159.1,235.2 163.8,233.3 168.4,231.5 173.1,229.7 177.7,227.9 182.4,226.2 187.0,224.5 191.7,222.7 196.3,221.1 201.0,219.4 205.6,217.7 210.3,216.1 214.9,214.4 219.6,212.8 224.2,211.2 228.9,209.7 233.5,208.1 238.2,206.5 242.9,205.0 247.5,203.4 252.2,201.9 256.8,200.4 261.5,198.9 266.1,197.4 270.8,196.0 275.4,194.5 280.1,193.0 284.7,191.6 289.4,190.1 294.0,188.7 298.7,187.3 303.3,185.9 308.0,184.5 312.6,183.1 317.3,181.7 321.9,180.3 326.6,179.0 331.2,177.6 335.9,176.2 340.6,174.9 345.2,173.6 349.9,172.2 354.5,170.9 359.2,169.6 363.8,168.3 368.5,167.0 373.1,165.7 377.8,164.4 382.4,163.1 387.1,161.8 391.7,160.5 396.4,159.3 401.0,158.0 405.7,156.7 410.3,155.5 415.0,154.2 419.6,153.0 424.3,151.8 428.9,150.5 433.6,149.3 438.2,148.1 442.9,146.9 447.6,145.6" fill="none" stroke="#4472C4" stroke-width="1.9" stroke-dasharray="1.75 1.95"/>
<polyline points="75.4,271.8 80.0,268.5 84.7,265.5 89.3,262.5 94.0,259.7 98.6,256.9 103.3,254.2 107.9,251.6 112.6,249.0 117.2,246.5 121.9,244.0 126.5,241.6 131.2,239.3 135.9,237.0 140.5,234.7 145.2,232.4 149.8,230.2 154.5,228.0 159.1,225.9 163.8,223.8 168.4,221.7 173.1,219.6 177.7,217.6 182.4,215.5 187.0,213.5 191.7,211.6 196.3,209.6 201.0,207.7 205.6,205.8 210.3,203.9 214.9,202.0 219.6,200.1 224.2,198.3 228.9,196.4 233.5,194.6 238.2,192.8 242.9,191.0 247.5,189.3 252.2,187.5 256.8,185.8 261.5,184.0 266.1,182.3 270.8,180.6 275.4,178.9 280.1,177.2 284.7,175.5 289.4,173.8 294.0,172.2 298.7,170.5 303.3,168.9 308.0,167.3 312.6,165.7 317.3,164.1 321.9,162.5 326.6,160.9 331.2,159.3 335.9,157.7 340.6,156.1 345.2,154.6 349.9,153.0 354.5,151.5 359.2,150.0 363.8,148.4 368.5,146.9 373.1,145.4 377.8,143.9 382.4,142.4 387.1,140.9 391.7,139.4 396.4,138.0 401.0,136.5 405.7,135.0 410.3,133.6 415.0,132.1 419.6,130.7 424.3,129.2 428.9,127.8 433.6,126.4 438.2,124.9 442.9,123.5 447.6,122.1" fill="none" stroke="#70AD47" stroke-width="1.9" stroke-dasharray="1.75 1.95"/>
<polyline points="75.4,267.8 80.0,264.2 84.7,260.8 89.3,257.5 94.0,254.2 98.6,251.1 103.3,248.1 107.9,245.2 112.6,242.3 117.2,239.5 121.9,236.8 126.5,234.1 131.2,231.4 135.9,228.8 140.5,226.3 145.2,223.7 149.8,221.3 154.5,218.8 159.1,216.4 163.8,214.0 168.4,211.7 173.1,209.4 177.7,207.1 182.4,204.8 187.0,202.6 191.7,200.4 196.3,198.2 201.0,196.0 205.6,193.9 210.3,191.7 214.9,189.6 219.6,187.5 224.2,185.5 228.9,183.4 233.5,181.4 238.2,179.4 242.9,177.4 247.5,175.4 252.2,173.4 256.8,171.4 261.5,169.5 266.1,167.6 270.8,165.7 275.4,163.7 280.1,161.9 284.7,160.0 289.4,158.1 294.0,156.3 298.7,154.4 303.3,152.6 308.0,150.8 312.6,148.9 317.3,147.1 321.9,145.3 326.6,143.6 331.2,141.8 335.9,140.0 340.6,138.3 345.2,136.5 349.9,134.8 354.5,133.1 359.2,131.4 363.8,129.6 368.5,127.9 373.1,126.2 377.8,124.6 382.4,122.9 387.1,121.2 391.7,119.5 396.4,117.9 401.0,116.2 405.7,114.6 410.3,113.0 415.0,111.3 419.6,109.7 424.3,108.1 428.9,106.5 433.6,104.9 438.2,103.3 442.9,101.7 447.6,100.1" fill="none" stroke="#255E91" stroke-width="1.9" stroke-dasharray="1.75 1.95"/>
<polyline points="75.4,265.0 80.0,261.1 84.7,257.3 89.3,253.7 94.0,250.2 98.6,246.8 103.3,243.5 107.9,240.2 112.6,237.1 117.2,234.0 121.9,231.0 126.5,228.0 131.2,225.1 135.9,222.2 140.5,219.4 145.2,216.6 149.8,213.9 154.5,211.2 159.1,208.5 163.8,205.9 168.4,203.3 173.1,200.7 177.7,198.2 182.4,195.7 187.0,193.2 191.7,190.7 196.3,188.3 201.0,185.9 205.6,183.5 210.3,181.2 214.9,178.8 219.6,176.5 224.2,174.2 228.9,171.9 233.5,169.6 238.2,167.4 242.9,165.2 247.5,163.0 252.2,160.8 256.8,158.6 261.5,156.4 266.1,154.3 270.8,152.1 275.4,150.0 280.1,147.9 284.7,145.8 289.4,143.7 294.0,141.7 298.7,139.6 303.3,137.6 308.0,135.5 312.6,133.5 317.3,131.5 321.9,129.5 326.6,127.5 331.2,125.5 335.9,123.6 340.6,121.6 345.2,119.7 349.9,117.7 354.5,115.8 359.2,113.9 363.8,112.0 368.5,110.1 373.1,108.2 377.8,106.3 382.4,104.4 387.1,102.5 391.7,100.7 396.4,98.8 401.0,97.0 405.7,95.1 410.3,93.3 415.0,91.5 419.6,89.7 424.3,87.9 428.9,86.1 433.6,84.3 438.2,82.5 442.9,80.7 447.6,78.9" fill="none" stroke="#9E480E" stroke-width="1.9" stroke-dasharray="1.75 1.95"/>
<polyline points="75.4,261.5 80.0,257.2 84.7,253.1 89.3,249.1 94.0,245.3 98.6,241.6 103.3,238.0 107.9,234.4 112.6,231.0 117.2,227.6 121.9,224.3 126.5,221.1 131.2,217.9 135.9,214.8 140.5,211.7 145.2,208.7 149.8,205.7 154.5,202.8 159.1,199.9 163.8,197.0 168.4,194.2 173.1,191.4 177.7,188.6 182.4,185.9 187.0,183.2 191.7,180.5 196.3,177.9 201.0,175.2 205.6,172.6 210.3,170.1 214.9,167.5 219.6,165.0 224.2,162.5 228.9,160.0 233.5,157.5 238.2,155.1 242.9,152.6 247.5,150.2 252.2,147.8 256.8,145.5 261.5,143.1 266.1,140.8 270.8,138.4 275.4,136.1 280.1,133.8 284.7,131.5 289.4,129.3 294.0,127.0 298.7,124.8 303.3,122.5 308.0,120.3 312.6,118.1 317.3,115.9 321.9,113.8 326.6,111.6 331.2,109.4 335.9,107.3 340.6,105.2 345.2,103.0 349.9,100.9 354.5,98.8 359.2,96.7 363.8,94.6 368.5,92.6 373.1,90.5 377.8,88.4 382.4,86.4 387.1,84.4 391.7,82.3 396.4,80.3 401.0,78.3 405.7,76.3 410.3,74.3 415.0,72.3 419.6,70.4 424.3,68.4 428.9,66.4 433.6,64.5 438.2,62.5 442.9,60.6 447.6,58.6" fill="none" stroke="#636363" stroke-width="1.9" stroke-dasharray="1.75 1.95"/>
<text x="33.2" y="308.4" font-size="11.8" text-anchor="end">0</text>
<text x="33.2" y="252.4" font-size="11.8" text-anchor="end">5</text>
<text x="33.2" y="196.3" font-size="11.8" text-anchor="end">10</text>
<text x="33.2" y="140.3" font-size="11.8" text-anchor="end">15</text>
<text x="33.2" y="84.2" font-size="11.8" text-anchor="end">20</text>
<text x="33.2" y="28.2" font-size="11.8" text-anchor="end">25</text>
<text x="44.3" y="324.4" font-size="11.8" text-anchor="middle">0</text>
<text x="115.9" y="324.4" font-size="11.8" text-anchor="middle">5</text>
<text x="187.5" y="324.4" font-size="11.8" text-anchor="middle">10</text>
<text x="259.1" y="324.4" font-size="11.8" text-anchor="middle">15</text>
<text x="330.7" y="324.4" font-size="11.8" text-anchor="middle">20</text>
<text x="402.3" y="324.4" font-size="11.8" text-anchor="middle">25</text>
<text x="473.9" y="324.4" font-size="11.8" text-anchor="middle">30</text>
<text x="192.3" y="341.9" font-size="11.3" textLength="97.6" lengthAdjust="spacingAndGlyphs">Flame length, L<tspan font-size="7.5" dy="2.2">f</tspan><tspan dy="-2.2"> (m)</tspan></text>
<text transform="translate(16.3,223.2) rotate(-90)" font-size="11.3" textLength="117" lengthAdjust="spacingAndGlyphs">Critical flow, CF (Lsec<tspan font-size="7" dy="-4">-1</tspan><tspan dy="4">)</tspan></text>
<circle cx="72.7" cy="376.3" r="3.5" fill="#5B9BD5"/>
<text x="79.5" y="380.2" font-size="12.2">2m</text>
<circle cx="114.4" cy="376.3" r="3.5" fill="#ED7D31"/>
<text x="121.2" y="380.2" font-size="12.2">3m</text>
<circle cx="155.9" cy="376.3" r="3.5" fill="#A5A5A5"/>
<text x="162.7" y="380.2" font-size="12.2">4m</text>
<circle cx="197.4" cy="376.3" r="3.5" fill="#FFC000"/>
<text x="204.2" y="380.2" font-size="12.2">5m</text>
<circle cx="238.7" cy="376.3" r="3.5" fill="#4472C4"/>
<text x="245.5" y="380.2" font-size="12.2">6m</text>
<circle cx="280.2" cy="376.3" r="3.5" fill="#70AD47"/>
<text x="287.0" y="380.2" font-size="12.2">7m</text>
<circle cx="321.6" cy="376.3" r="3.5" fill="#255E91"/>
<text x="328.4" y="380.2" font-size="12.2">8m</text>
<circle cx="363.1" cy="376.3" r="3.5" fill="#9E480E"/>
<text x="369.9" y="380.2" font-size="12.2">9m</text>
<circle cx="404.8" cy="376.3" r="3.5" fill="#636363"/>
<text x="411.6" y="380.2" font-size="12.2">10m</text>
<text x="219" y="396.0" font-size="11.3" textLength="94" lengthAdjust="spacingAndGlyphs">Active flame depth</text>
<text y="254.6" font-size="11.6"><tspan x="451.8">CF</tspan><tspan class="sm" font-size="7.3" dy="2.3">2</tspan><tspan x="471.8" dy="-2.3" textLength="32.6" lengthAdjust="spacingAndGlyphs">= 0.64x</tspan><tspan class="sm" x="505.0" font-size="7.3" dy="-3.7">0.62</tspan></text>
<text y="230.4" font-size="11.6"><tspan x="451.8">CF</tspan><tspan class="sm" font-size="7.3" dy="2.3">3</tspan><tspan x="471.8" dy="-2.3" textLength="32.6" lengthAdjust="spacingAndGlyphs">= 0.90x</tspan><tspan class="sm" x="505.0" font-size="7.3" dy="-3.7">0.63</tspan></text>
<text y="205.6" font-size="11.6"><tspan x="451.8">CF</tspan><tspan class="sm" font-size="7.3" dy="2.3">4</tspan><tspan x="471.8" dy="-2.3" textLength="32.6" lengthAdjust="spacingAndGlyphs">= 1.14x</tspan><tspan class="sm" x="505.0" font-size="7.3" dy="-3.7">0.65</tspan></text>
<text y="179.1" font-size="11.6"><tspan x="451.8">CF</tspan><tspan class="sm" font-size="7.3" dy="2.3">5</tspan><tspan x="471.8" dy="-2.3" textLength="32.6" lengthAdjust="spacingAndGlyphs">= 1.35x</tspan><tspan class="sm" x="505.0" font-size="7.3" dy="-3.7">0.65</tspan></text>
<text y="154.6" font-size="11.6"><tspan x="451.8">CF</tspan><tspan class="sm" font-size="7.3" dy="2.3">6</tspan><tspan x="471.8" dy="-2.3" textLength="32.6" lengthAdjust="spacingAndGlyphs">= 1.56x</tspan><tspan class="sm" x="505.0" font-size="7.3" dy="-3.7">0.66</tspan></text>
<text y="131.8" font-size="11.6"><tspan x="451.8">CF</tspan><tspan class="sm" font-size="7.3" dy="2.3">7</tspan><tspan x="471.8" dy="-2.3" textLength="32.6" lengthAdjust="spacingAndGlyphs">= 1.74x</tspan><tspan class="sm" x="505.0" font-size="7.3" dy="-3.7">0.67</tspan></text>
<text y="111.1" font-size="11.6"><tspan x="451.8">CF</tspan><tspan class="sm" font-size="7.3" dy="2.3">8</tspan><tspan x="471.8" dy="-2.3" textLength="32.6" lengthAdjust="spacingAndGlyphs">= 1.93x</tspan><tspan class="sm" x="505.0" font-size="7.3" dy="-3.7">0.67</tspan></text>
<text y="87.6" font-size="11.6"><tspan x="451.8">CF</tspan><tspan class="sm" font-size="7.3" dy="2.3">9</tspan><tspan x="471.8" dy="-2.3" textLength="32.6" lengthAdjust="spacingAndGlyphs">= 2.11x</tspan><tspan class="sm" x="505.0" font-size="7.3" dy="-3.7">0.68</tspan></text>
<text y="59.8" font-size="11.6"><tspan x="450.0">CF</tspan><tspan class="sm" font-size="7.3" dy="2.3">10</tspan><tspan x="473.4" dy="-2.3" textLength="33.8" lengthAdjust="spacingAndGlyphs">= 2.28x</tspan><tspan class="sm" x="507.8" font-size="7.3" dy="-3.7">0.68</tspan></text>
</svg></body></html>
